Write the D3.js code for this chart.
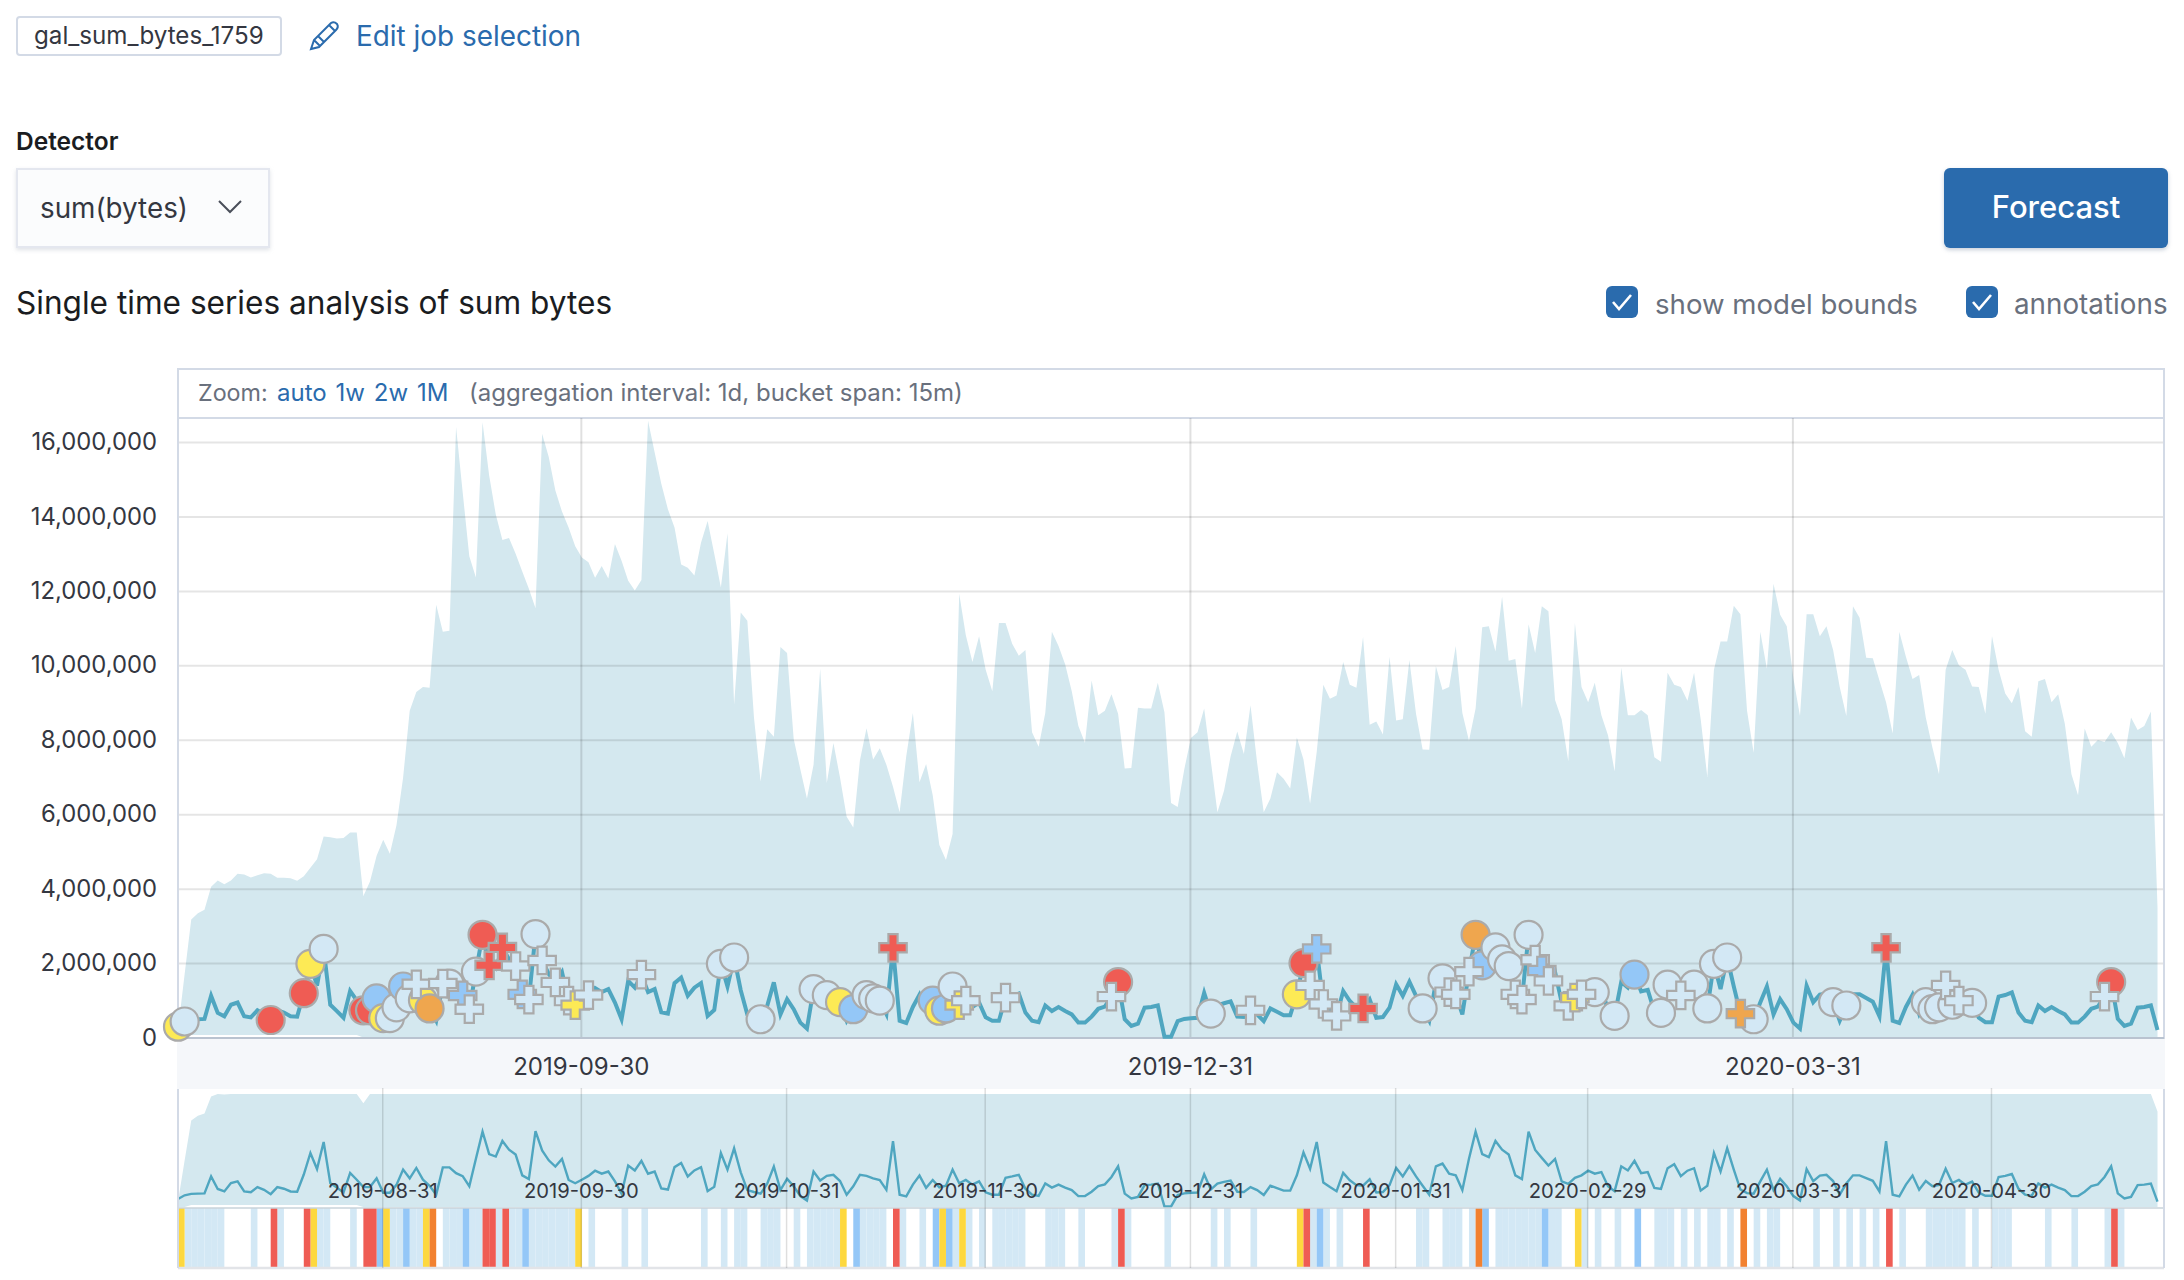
<!DOCTYPE html>
<html>
<head>
<meta charset="utf-8">
<title>Single time series analysis of sum bytes</title>
<script src="https://cdn.jsdelivr.net/npm/d3@7"></script>
<style>
    html, body { margin: 0; padding: 0; background: #fff; }
    svg { display: block; }
    text { font-family: Inter, "Noto Sans", sans-serif; }
</style>
</head>
<body>
<svg id="chart"></svg>
<script>
// one value per day, in millions of bytes, starting at firstDay
const firstDay = "2019-07-31";
const actualValues = [
    .29,.43,.48,.49,.5,1.12,.66,.57,.88,.94,
    .57,.54,.73,.63,.47,.73,.67,.57,.56,1.19,
    1.98,1.39,2.38,.88,.71,.53,1.25,1.0,.73,.73,
    1.05,.52,.52,.81,1.37,1.05,1.43,1.0,.78,.45,
    1.45,1.45,1.24,1.13,.76,1.77,2.76,1.94,1.85,2.42,
    2.1,1.92,1.16,1.02,2.78,2.07,1.71,1.48,1.76,.99,
    .87,1.0,1.14,1.33,1.22,1.3,.94,.49,1.52,1.34,
    1.69,1.22,1.3,.68,.64,1.46,1.61,1.12,1.34,1.46,
    .58,.74,1.98,1.37,2.15,1.27,.62,.55,.49,.85,
    1.48,.62,1.03,.76,.4,.24,1.3,.97,1.14,1.18,
    .95,.45,.76,1.18,1.14,1.05,.99,.63,2.41,.45,
    .39,.82,1.15,.7,.99,.72,.78,1.37,.87,.99,
    .82,.94,.54,.45,.45,1.07,1.12,1.18,.67,.45,
    .41,.86,.71,.82,.71,.62,.4,.4,.56,.77,
    .83,1.1,1.49,.49,.31,.37,.8,.82,.86,.02,
    .02,.44,.5,.52,.53,1.2,.64,.86,.92,.97,
    .56,.55,.73,.62,.44,.78,.69,.6,.6,1.16,
    2.0,1.4,2.38,.9,.73,.58,1.25,.98,.8,.78,
    1.02,.53,.55,.8,1.43,1.12,1.5,1.12,.78,.45,
    1.49,1.59,1.22,1.16,.62,1.77,2.76,1.94,1.83,2.42,
    2.1,1.92,1.16,1.02,2.76,2.09,1.8,1.52,1.76,.94,
    .85,1.07,1.16,1.33,1.22,1.28,.76,.58,1.49,1.34,
    1.69,1.24,1.28,.7,.66,1.42,1.57,1.13,1.33,1.42,
    .6,.78,1.98,1.3,2.15,1.37,.64,.51,.49,.94,
    1.37,.62,1.03,.76,.4,.24,1.39,.95,1.15,1.18,
    .95,.45,.86,1.16,1.16,1.06,.96,.57,2.41,.45,
    .39,.82,1.15,.63,.95,.76,.81,1.4,.88,.99,
    .82,.93,.53,.41,.41,1.1,1.14,1.21,.67,.45,
    .41,.86,.71,.82,.71,.62,.4,.4,.56,.77,
    .83,1.1,1.49,.5,.31,.37,.8,.82,.86,.2
];
const upperBounds = [
    .2,1.7,3.17,3.34,3.43,4.05,4.22,4.12,4.22,4.4,
    4.38,4.3,4.36,4.41,4.4,4.29,4.29,4.28,4.21,4.33,
    4.56,4.79,5.4,5.38,5.35,5.36,5.51,5.51,3.8,4.19,
    4.88,5.31,4.94,5.7,6.98,8.78,9.28,9.42,9.4,11.63,
    10.9,10.93,16.4,14.65,12.93,12.36,16.53,15.1,14.05,13.37,
    13.42,13.0,12.52,12.06,11.53,16.22,15.6,14.7,14.13,13.7,
    13.2,12.9,12.77,12.35,12.67,12.33,13.26,12.81,12.27,12.01,
    12.29,16.57,15.72,14.88,14.19,13.7,12.71,12.62,12.41,13.29,
    13.88,13.0,12.09,13.55,8.95,11.42,11.2,8.6,6.88,8.28,
    8.08,10.49,10.33,8.02,7.21,6.42,7.33,9.91,6.84,7.91,
    6.98,5.93,5.64,7.44,8.31,7.47,7.77,7.33,6.74,6.05,
    7.56,8.72,6.86,7.35,6.51,5.17,4.77,5.47,11.92,10.81,
    10.09,10.78,9.88,9.3,11.14,11.14,10.58,10.26,10.41,8.2,
    7.81,8.72,10.9,10.52,10.03,9.3,8.37,7.91,9.59,8.66,
    8.78,9.22,8.7,7.23,7.24,8.86,8.84,8.84,9.53,8.74,
    6.3,6.19,7.21,8.05,8.2,8.84,7.44,6.05,6.63,7.56,
    8.22,7.62,8.93,7.38,6.05,6.42,7.13,6.95,6.69,8.06,
    7.47,6.28,7.67,9.48,9.1,9.19,10.09,9.48,9.4,10.76,
    8.4,8.49,8.14,10.23,8.52,8.55,10.14,8.7,7.74,7.73,
    9.98,9.34,9.42,10.52,8.72,7.97,8.84,11.02,11.05,10.37,
    11.84,10.12,10.17,8.84,11.1,10.33,11.59,11.45,9.07,8.55,
    7.42,11.14,9.42,9.01,9.53,8.66,8.12,7.15,9.94,8.66,
    8.66,8.8,8.66,7.53,7.41,9.8,9.48,9.42,9.05,9.8,
    8.55,7.0,9.88,10.64,10.64,11.6,11.37,8.78,7.65,10.9,
    9.91,12.19,11.36,11.05,9.65,8.64,11.37,11.37,10.78,11.05,
    10.41,9.42,8.64,11.59,11.28,10.2,10.19,9.59,9.01,8.17,
    10.9,10.23,9.63,9.74,8.6,7.79,7.07,9.88,10.41,10.0,
    9.88,9.43,9.42,8.7,10.79,9.88,9.24,8.98,9.42,8.23,
    8.08,9.57,9.63,9.01,9.22,8.43,7.07,6.51,8.3,7.81,
    7.99,7.94,8.2,7.91,7.5,8.6,8.26,8.37,8.76,3.5
];
// lower bound only lifts off zero in the first weeks
const lowerBounds = [
    0,0,.07,.07,.07,.07,.07,.07,.07,.07,
    .07,.07,.07,.07,.07,.07,.07,.07,.07,.07,
    .07,.07,.07,.07,.07,.07,.07,.07
];

// anomaly markers: [day index, severity]
const circleMarkers = [
    [0,"minor"],[1,"low"],[14,"critical"],[19,"critical"],[20,"minor"],[22,"low"],
    [28,"critical"],[29,"critical"],[30,"warning"],[31,"minor"],[32,"low"],[33,"low"],
    [34,"warning"],[35,"low"],[37,"minor"],[38,"major"],[41,"low"],[45,"low"],
    [46,"critical"],[54,"low"],[82,"low"],[84,"low"],[88,"low"],[96,"low"],[98,"low"],
    [100,"minor"],[102,"warning"],[104,"low"],[105,"low"],[106,"low"],[114,"warning"],
    [115,"minor"],[116,"warning"],[117,"low"],[142,"critical"],[156,"low"],[169,"minor"],
    [170,"critical"],[188,"low"],[191,"low"],[196,"major"],[197,"warning"],[199,"low"],
    [200,"low"],[201,"low"],[204,"low"],[214,"low"],[217,"low"],[220,"warning"],
    [224,"low"],[225,"low"],[229,"low"],[231,"low"],[232,"low"],[234,"low"],[238,"low"],
    [250,"low"],[252,"low"],[264,"low"],[265,"low"],[266,"low"],[268,"low"],[271,"low"],
    [292,"critical"]
];
const crossMarkers = [
    [36,"low"],[40,"low"],[43,"warning"],[44,"low"],[47,"critical"],[49,"critical"],
    [51,"low"],[52,"warning"],[53,"low"],[55,"low"],[57,"low"],[59,"low"],[60,"minor"],
    [62,"low"],[70,"low"],[108,"critical"],[118,"minor"],[119,"low"],[125,"low"],
    [141,"low"],[162,"low"],[171,"low"],[172,"warning"],[173,"low"],[175,"low"],
    [179,"critical"],[192,"low"],[193,"low"],[195,"low"],[202,"low"],[203,"low"],
    [205,"low"],[206,"warning"],[207,"low"],[210,"low"],[211,"minor"],[212,"low"],
    [227,"low"],[236,"major"],[258,"critical"],[267,"low"],[269,"low"],[291,"low"]
];

// swimlane cells by severity, day indexes
const laneCritical = [14,19,28,29,46,47,49,108,142,170,179,258,292];
const laneMajor = [38,196,236];
const laneMinor = [0,20,31,37,60,100,115,118,169,211];
const laneWarning = [30,34,43,52,102,114,116,172,197,206,220];
const laneLow = [
    1,2,3,4,5,6,11,15,21,22,26,32,33,35,36,40,41,42,44,45,48,50,51,53,54,55,56,57,58,59,
    62,67,70,79,82,84,85,88,89,90,93,95,96,97,98,99,103,104,105,106,109,112,117,119,121,
    123,124,125,126,127,131,132,133,136,141,143,149,156,158,162,171,173,175,187,188,191,
    192,193,195,199,200,201,202,203,204,205,207,208,212,214,217,223,224,225,227,229,231,
    232,234,238,240,241,247,250,252,254,256,260,264,265,266,267,268,269,271,274,275,276,
    282,286,291,293
];

const yTicks = [0, 2, 4, 6, 8, 10, 12, 14, 16];
const mainDateTicks = ["2019-09-30", "2019-12-31", "2020-03-31"];
const contextDateTicks = [
    "2019-08-31", "2019-09-30", "2019-10-31", "2019-11-30", "2019-12-31",
    "2020-01-31", "2020-02-29", "2020-03-31", "2020-04-30"
];

const blue = "#2a6bad";
const subdued = "#69707d";
const inkDark = "#343741";
const panelBorder = "#d3dae6";
const markerFill = { critical: "#ef5c54", major: "#efa64e", minor: "#fdea55", warning: "#94c7f7", low: "#d3e8f5" };
const laneFill = { critical: "#ef5c54", major: "#f28130", minor: "#fdd83f", warning: "#94c7f7", low: "#d3e8f5" };

const svg = d3.select("#chart").attr("width", 2184).attr("height", 1280);

const parseDay = d3.utcParse("%Y-%m-%d");
const fmtDay = d3.utcFormat("%Y-%m-%d");
const dayOf = (i) => d3.utcDay.offset(parseDay(firstDay), i);

const x = d3.scaleUtc()
    .domain([dayOf(0), dayOf(299)])
    .range([178, 2157.5]);
const y = d3.scaleLinear()
    .domain([0, 16])
    .range([1037.5, 442]);
const ctxY = d3.scaleLinear()
    .domain([0, 4.14])
    .range([1207, 1094])
    .clamp(true);

const days = actualValues.map((v, i) => i);

function label(px, py, str, size, color, weight, anchor) {
    return svg.append("text")
        .attr("x", px)
        .attr("y", py)
        .attr("dy", "0.35em")
        .attr("font-size", size)
        .attr("font-weight", weight || 400)
        .attr("text-anchor", anchor || "start")
        .attr("fill", color)
        .text(str);
}

// page header controls
svg.append("rect").attr("x", 17).attr("y", 17).attr("width", 264).attr("height", 38).attr("rx", 3)
    .attr("fill", "#fff").attr("stroke", panelBorder).attr("stroke-width", 2);
label(34, 36, "gal_sum_bytes_1759", 24.2, inkDark);
svg.append("path")
    .attr("d", "M311 49 L314 40 L331 23 Q334 21 337 24 Q339 27 336 30 L319 47 Z M314 40 L320 46 M318 36 L324 42 M329 25 L335 31")
    .attr("fill", "none").attr("stroke", blue).attr("stroke-width", 2);
label(356, 36, "Edit job selection", 27.9, blue);
label(16, 141, "Detector", 24.5, "#1a1c21", 600);
svg.append("rect").attr("x", 17).attr("y", 169).attr("width", 252).attr("height", 78)
    .attr("fill", "#fbfcfd").attr("stroke", "#e4e7ef").attr("stroke-width", 2)
    .style("filter", "drop-shadow(0 2px 2px rgba(150,160,175,.3))");
label(40, 208, "sum(bytes)", 27.8, inkDark);
svg.append("path").attr("d", "M219 201 L230 212 L241 201")
    .attr("fill", "none").attr("stroke", "#4a4f5a").attr("stroke-width", 2);
label(16, 303, "Single time series analysis of sum bytes", 31.6, "#1a1c21");

svg.append("rect").attr("x", 1944).attr("y", 168).attr("width", 224).attr("height", 80).attr("rx", 6)
    .attr("fill", blue)
    .style("filter", "drop-shadow(0 2px 2px rgba(100,120,150,.35))");
label(2056, 207, "Forecast", 31, "#fff", 500, "middle");

[[1606, 1655, "show model bounds", 27.6], [1966, 2014, "annotations", 27.8]].forEach(([bx, tx, str, size]) => {
    svg.append("rect").attr("x", bx).attr("y", 286).attr("width", 32).attr("height", 32).attr("rx", 6).attr("fill", blue);
    svg.append("path")
        .attr("d", `M${bx + 7} ${302} l6 7 l12 -14`)
        .attr("fill", "none").attr("stroke", "#fff").attr("stroke-width", 2.6);
    label(tx, 304, str, size, subdued);
});

// zoom strip
svg.append("rect").attr("x", 178).attr("y", 369).attr("width", 1986).attr("height", 49)
    .attr("fill", "#fff").attr("stroke", panelBorder).attr("stroke-width", 2);
label(198, 393, "Zoom:", 23.3, subdued);
label(277, 393, "auto 1w 2w 1M", 24, blue).style("word-spacing", "2.1px");
label(469, 393, "(aggregation interval: 1d, bucket span: 15m)", 24, subdued);

// main chart
const boundsArea = (yScale) => d3.area()
    .x((i) => x(dayOf(i)))
    .y0((i) => yScale(lowerBounds[i] || 0))
    .y1((i) => yScale(upperBounds[i]));
const valueLine = (yScale) => d3.line()
    .x((i) => x(dayOf(i)))
    .y((i) => yScale(actualValues[i]));

svg.append("path").datum(days).attr("d", boundsArea(y)).attr("fill", "#d4e8ef");

svg.append("rect").attr("x", 177).attr("y", 1038).attr("width", 1988).attr("height", 51).attr("fill", "#f5f7fa");

const yAxis = svg.append("g")
    .attr("transform", "translate(178,0)")
    .call(d3.axisLeft(y)
        .tickValues(yTicks)
        .tickFormat((d) => d3.format(",")(d * 1000000))
        .tickSize(-1986)
        .tickPadding(21));
yAxis.select(".domain").remove();
yAxis.selectAll("line").attr("stroke", "#000").attr("stroke-opacity", 0.1).attr("stroke-width", 2);
yAxis.selectAll("text").attr("font-size", 23.8).attr("fill", inkDark).style("font-family", "Inter");

// date axes sit a pixel left of the data, as in the original
const xAxis = svg.append("g")
    .attr("transform", "translate(-1,1038)")
    .call(d3.axisBottom(x)
        .tickValues(mainDateTicks.map(parseDay))
        .tickFormat(fmtDay)
        .tickSize(-620));
xAxis.select(".domain").remove();
xAxis.selectAll("line").attr("stroke", "#000").attr("stroke-opacity", 0.12).attr("stroke-width", 2);
xAxis.selectAll("text").attr("y", 29).attr("dy", "0.35em").attr("font-size", 24)
    .attr("fill", inkDark).style("font-family", "Inter");

// frame of the main panel
svg.append("path").attr("d", "M178 418 V1038 H2164 V418")
    .attr("fill", "none").attr("stroke", panelBorder).attr("stroke-width", 2);
svg.append("line").attr("x1", 178).attr("x2", 2164).attr("y1", 1038).attr("y2", 1038)
    .attr("stroke", "#b9c3d0").attr("stroke-width", 2);

svg.append("path").datum(days).attr("d", valueLine(y))
    .attr("fill", "none").attr("stroke", "#4fa6c0").attr("stroke-width", 4);

svg.append("g").selectAll("circle")
    .data(circleMarkers)
    .enter()
    .append("circle")
        .attr("cx", (m) => x(dayOf(m[0])))
        .attr("cy", (m) => y(actualValues[m[0]]))
        .attr("r", 14)
        .attr("fill", (m) => markerFill[m[1]])
        .attr("stroke", "#aaa")
        .attr("stroke-width", 2.2);

const crossPath = d3.symbol().type(d3.symbolCross).size(420)();
svg.append("g").selectAll("path")
    .data(crossMarkers)
    .enter()
    .append("path")
        .attr("d", crossPath)
        .attr("transform", (m) => `translate(${x(dayOf(m[0]))},${y(actualValues[m[0]])})`)
        .attr("fill", (m) => markerFill[m[1]])
        .attr("stroke", "#aaa")
        .attr("stroke-width", 2.2);

// context chart
svg.append("path").datum(days).attr("d", boundsArea(ctxY)).attr("fill", "#d4e8ef");
svg.append("path").datum(days).attr("d", valueLine(ctxY))
    .attr("fill", "none").attr("stroke", "#4fa6c0").attr("stroke-width", 2.4);

// swimlane
svg.append("rect").attr("x", 178).attr("y", 1208).attr("width", 1986).attr("height", 60).attr("fill", "#fff");
const laneCells = [];
[["low", laneLow], ["warning", laneWarning], ["minor", laneMinor], ["major", laneMajor], ["critical", laneCritical]]
    .forEach(([severity, list]) => list.forEach((i) => laneCells.push({ i, severity })));
svg.append("g").selectAll("rect")
    .data(laneCells)
    .enter()
    .append("rect")
        .attr("x", (c) => x(dayOf(c.i)))
        .attr("y", 1208)
        .attr("width", (c) => x(dayOf(c.i + 1)) - x(dayOf(c.i)))
        .attr("height", 60)
        .attr("fill", (c) => laneFill[c.severity]);
svg.append("line").attr("x1", 178).attr("x2", 2164).attr("y1", 1208).attr("y2", 1208)
    .attr("stroke", "#c9d3da").attr("stroke-width", 1.5);
svg.append("line").attr("x1", 178).attr("x2", 2164).attr("y1", 1268).attr("y2", 1268)
    .attr("stroke", "#e2e4e8").attr("stroke-width", 2.5);

const ctxAxis = svg.append("g")
    .attr("transform", "translate(-1,1268)")
    .call(d3.axisBottom(x)
        .tickValues(contextDateTicks.map(parseDay))
        .tickFormat(fmtDay)
        .tickSize(-180));
ctxAxis.select(".domain").remove();
ctxAxis.selectAll("line").attr("stroke", "#000").attr("stroke-opacity", 0.13).attr("stroke-width", 1.5);
ctxAxis.selectAll("text").attr("y", -77).attr("dy", "0.35em").attr("font-size", 20.2)
    .attr("fill", inkDark).style("font-family", "Inter");

svg.append("path").attr("d", "M178 1089 V1268 M2164 1089 V1268")
    .attr("fill", "none").attr("stroke", panelBorder).attr("stroke-width", 2);
</script>
</body>
</html>
